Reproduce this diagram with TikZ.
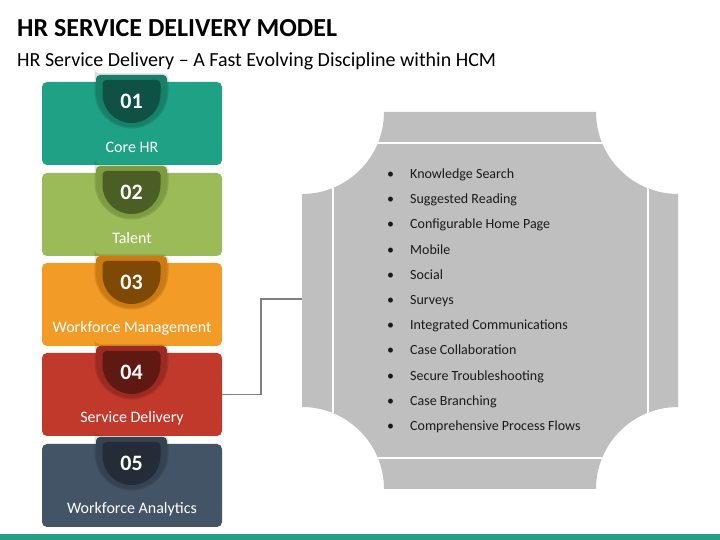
\documentclass[tikz,border=0pt]{standalone}
\usepackage{fontspec}
\setmainfont{Carlito}
\usetikzlibrary{calc}
\definecolor{c1}{HTML}{1EA185}\definecolor{c1o}{HTML}{178068}\definecolor{c1i}{HTML}{0F5245}
\definecolor{c2}{HTML}{9BBB59}\definecolor{c2o}{HTML}{7D9B3F}\definecolor{c2i}{HTML}{4B5E26}
\definecolor{c3}{HTML}{F29B26}\definecolor{c3o}{HTML}{CC7A12}\definecolor{c3i}{HTML}{7E4905}
\definecolor{c4}{HTML}{C0392B}\definecolor{c4o}{HTML}{9C2A20}\definecolor{c4i}{HTML}{5F1913}
\definecolor{c5}{HTML}{435466}\definecolor{c5o}{HTML}{344252}\definecolor{c5i}{HTML}{232C37}
\definecolor{panelgray}{HTML}{BFBFBF}
\definecolor{linegray}{HTML}{7F7F7F}
\definecolor{txt}{HTML}{1A1A1A}
\tikzset{
  boxstyle/.style={rectangle, rounded corners=5pt, minimum width=180pt, minimum height=83pt, inner sep=0pt, draw=none},
  numstyle/.style={text=white, font=\fontsize{22}{26}\selectfont\bfseries, inner sep=0pt},
  labstyle/.style={text=white, font=\fontsize{16}{19}\selectfont, inner sep=0pt},
  itemstyle/.style={text=txt, font=\fontsize{14}{17}\selectfont, inner sep=0pt, anchor=base west},
  connector/.style={draw=linegray, line width=1.5pt},
}
% \hrstep{index}{image top y}{colour prefix}{number}{label}
\newcommand{\hrstep}[5]{%
  \pgfmathsetmacro{\yt}{540-#2}%
  \node[boxstyle, fill=#3] (b#1) at (132,\yt-41.5) {};
  % shadow
  \fill[black, opacity=0.12] (94.5,\yt-9.5) -- (94.5,\yt+8.5) [rounded corners=5pt] -- (94.5,\yt+8.5) -- (168.5,\yt+8.5) [sharp corners] -- (168.5,\yt-9.5) arc[start angle=0, end angle=-180, radius=37];
  \fill[#3o] (96,\yt-9.5) [rounded corners=4pt] -- (96,\yt+7) -- (167,\yt+7) [sharp corners] -- (167,\yt-9.5) arc[start angle=0, end angle=-180, radius=35.5];
  \fill[#3i] (102.5,\yt-12) [rounded corners=4pt] -- (102.5,\yt+2) -- (160.5,\yt+2) [sharp corners] -- (160.5,\yt-12) arc[start angle=0, end angle=-180, radius=29];
  \node[numstyle] (n#1) at (131.5,\yt-19.5) {#4};
  \node[labstyle] (l#1) at (132,\yt-65) {#5};
}
\begin{document}
\begin{tikzpicture}[x=1pt,y=1pt]
\useasboundingbox (0,0) rectangle (720,540);
\fill[white] (0,0) rectangle (720,540);
% title
\node[anchor=base west, inner sep=0pt, font=\fontsize{26}{30}\selectfont\bfseries, text=black] (title) at (17,503.3) {HR SERVICE DELIVERY MODEL};
\node[anchor=base west, inner sep=0pt, font=\fontsize{20}{24}\selectfont, text=black] (subtitle) at (17,473.3) {HR Service Delivery -- A Fast Evolving Discipline within HCM};
% steps
\hrstep{1}{82}{c1}{01}{Core HR}
\hrstep{2}{173}{c2}{02}{Talent}
\hrstep{3}{263}{c3}{03}{Workforce Management}
\hrstep{4}{353}{c4}{04}{Service Delivery}
\hrstep{5}{444}{c5}{05}{Workforce Analytics}
% panel
\def\panelpath{(384,428) -- (596,428) arc[start angle=180, end angle=270, radius=82] -- (678,133) arc[start angle=90, end angle=180, radius=82] -- (384,51) arc[start angle=0, end angle=90, radius=82] -- (302,346) arc[start angle=-90, end angle=0, radius=82] -- cycle}
\fill[panelgray] \panelpath;
\begin{scope}
  \clip \panelpath;
  \draw[white, line width=1.5pt] (300,397) -- (680,397) (300,82) -- (680,82) (333,40) -- (333,440) (648,40) -- (648,440);
\end{scope}
\coordinate (panelw) at (302,241);
\draw[connector] (b4.east) -- ++(39,0) |- (panelw);
% items
\foreach \t [count=\i from 0] in {Knowledge Search, Suggested Reading, Configurable Home Page, Mobile, Social, Surveys, Integrated Communications, Case Collaboration, Secure Troubleshooting, Case Branching, Comprehensive Process Flows}{
  \node[itemstyle] (item\i) at (410,361.5-25.2*\i) {\t};
  \node[itemstyle] (bul\i) at (387,361.5-25.2*\i) {•};
}
% bottom bar
\fill[c1] (0,0) rectangle (720,6);
\end{tikzpicture}
\end{document}
